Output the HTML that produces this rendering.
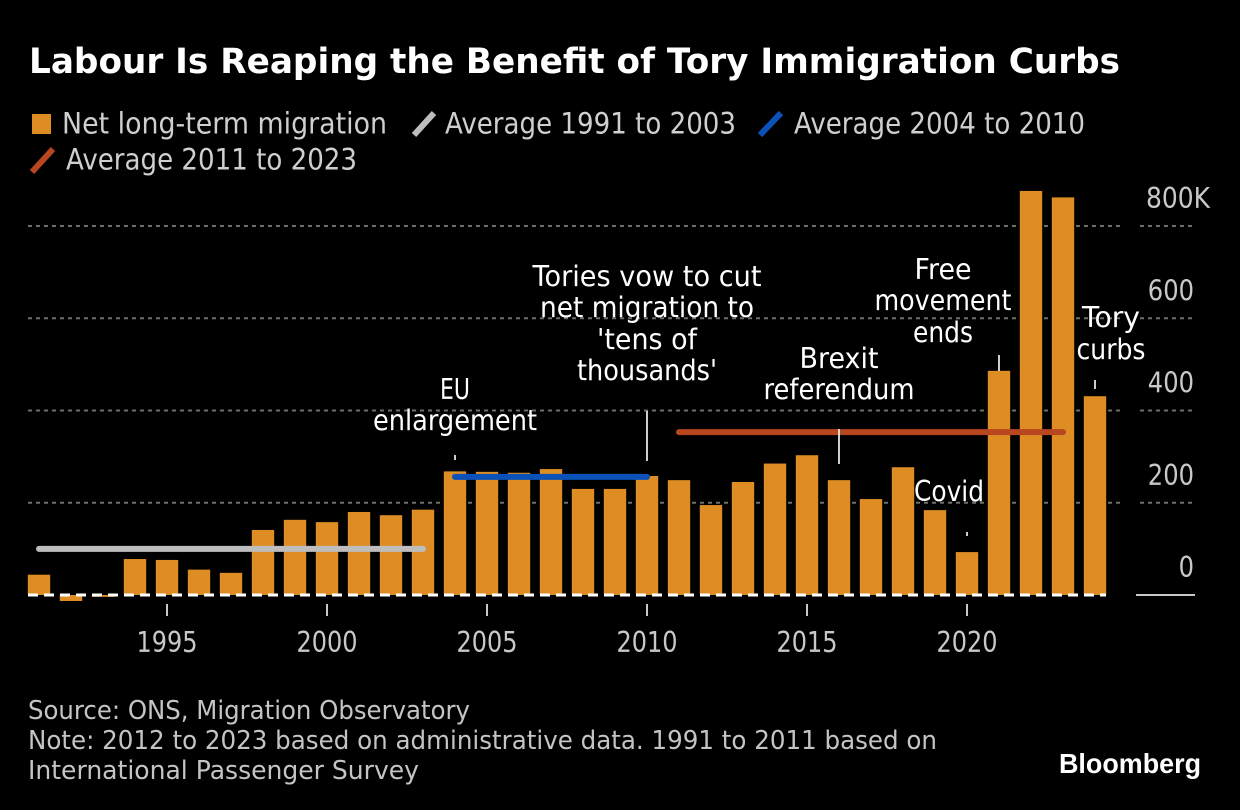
<!DOCTYPE html>
<html lang="en">
<head>
<meta charset="utf-8">
<title>Labour Is Reaping the Benefit of Tory Immigration Curbs</title>
<style>
html,body{margin:0;padding:0;background:#000;width:1240px;height:810px;overflow:hidden}
svg{display:block}
text{font-family:"DejaVu Sans",sans-serif}
.lg{font-size:29px;fill:#cfcfcf}
.ft{font-size:26px;fill:#c4c4c4}
.tk{font-size:28.5px;fill:#c8c8c8}
.an{font-size:28.5px;fill:#fff;text-anchor:middle}
</style>
</head>
<body>
<svg id="chart" width="1240" height="810" viewBox="0 0 1240 810" xmlns="http://www.w3.org/2000/svg">
  <rect width="1240" height="810" fill="#000"/>
  <text x="29" y="73" font-size="34.5" font-weight="700" fill="#fff" textLength="1091" lengthAdjust="spacingAndGlyphs">Labour Is Reaping the Benefit of Tory Immigration Curbs</text>

  <g>
    <rect x="32" y="114" width="19" height="20" fill="#dd8d24"/>
    <text class="lg" x="62" y="133.5" textLength="325" lengthAdjust="spacingAndGlyphs">Net long-term migration</text>
    <line x1="414" y1="135" x2="434" y2="113" stroke="#bdbdbd" stroke-width="6"/>
    <text class="lg" x="445" y="133.5" textLength="291" lengthAdjust="spacingAndGlyphs">Average 1991 to 2003</text>
    <line x1="760" y1="135" x2="781" y2="113" stroke="#0a52b8" stroke-width="6"/>
    <text class="lg" x="794" y="133.5" textLength="291" lengthAdjust="spacingAndGlyphs">Average 2004 to 2010</text>
    <line x1="32" y1="172" x2="53" y2="149" stroke="#b8461f" stroke-width="6"/>
    <text class="lg" x="66" y="169.5" textLength="291" lengthAdjust="spacingAndGlyphs">Average 2011 to 2023</text>
  </g>

  <g id="grid"></g>
  <g id="bars"></g>
  <g id="zero"></g>
  <g id="xaxis"></g>
  <g id="yaxis"></g>
  <g id="avgs"></g>
  <g id="leaders"></g>

  <g>
    <g>
      <text class="an" x="455" y="399" textLength="30" lengthAdjust="spacingAndGlyphs">EU</text>
      <text class="an" x="455" y="430" textLength="164" lengthAdjust="spacingAndGlyphs">enlargement</text>
    </g>
    <g>
      <text class="an" x="647" y="286" textLength="229" lengthAdjust="spacingAndGlyphs">Tories vow to cut</text>
      <text class="an" x="647" y="317" textLength="214" lengthAdjust="spacingAndGlyphs">net migration to</text>
      <text class="an" x="647" y="349" textLength="100" lengthAdjust="spacingAndGlyphs">'tens of</text>
      <text class="an" x="647" y="380" textLength="140" lengthAdjust="spacingAndGlyphs">thousands'</text>
    </g>
    <g>
      <text class="an" x="839" y="368" textLength="79" lengthAdjust="spacingAndGlyphs">Brexit</text>
      <text class="an" x="839" y="399" textLength="151" lengthAdjust="spacingAndGlyphs">referendum</text>
    </g>
    <g>
      <text class="an" x="949" y="501" textLength="70" lengthAdjust="spacingAndGlyphs">Covid</text>
    </g>
    <g>
      <text class="an" x="943" y="279" textLength="57" lengthAdjust="spacingAndGlyphs">Free</text>
      <text class="an" x="943" y="310" textLength="137" lengthAdjust="spacingAndGlyphs">movement</text>
      <text class="an" x="943" y="342" textLength="60" lengthAdjust="spacingAndGlyphs">ends</text>
    </g>
    <g>
      <text class="an" x="1111" y="327" textLength="58" lengthAdjust="spacingAndGlyphs">Tory</text>
      <text class="an" x="1111" y="359" textLength="69" lengthAdjust="spacingAndGlyphs">curbs</text>
    </g>
  </g>

  <g>
    <text class="ft" x="28" y="719" textLength="442" lengthAdjust="spacingAndGlyphs">Source: ONS, Migration Observatory</text>
    <text class="ft" x="28" y="749" textLength="909" lengthAdjust="spacingAndGlyphs">Note: 2012 to 2023 based on administrative data. 1991 to 2011 based on</text>
    <text class="ft" x="28" y="779" textLength="391" lengthAdjust="spacingAndGlyphs">International Passenger Survey</text>
  </g>
  <text x="1059" y="773" font-size="28" font-weight="700" fill="#fff" style='font-family:"Liberation Sans",sans-serif' textLength="142" lengthAdjust="spacingAndGlyphs">Bloomberg</text>
</svg>

<script>
const years = [1991,1992,1993,1994,1995,1996,1997,1998,1999,2000,2001,2002,2003,2004,2005,2006,2007,2008,2009,2010,2011,2012,2013,2014,2015,2016,2017,2018,2019,2020,2021,2022,2023,2024];
const migration = [44,-13,-4,78,76,55,48,141,163,158,180,173,185,268,267,265,273,230,230,258,249,195,245,285,303,249,208,277,184,93,486,876,862,431];
const xTickYears = [1995,2000,2005,2010,2015,2020];
const yTicks = [0,200,400,600,800];
const yTickLabels = ['0','200','400','600','800K'];
const avgStartYears = [1991,2004,2011];
const avgEndYears = [2003,2010,2023];
const avgValues = [100,256,353];
const avgNames = ['average-line-1991-2003','average-line-2004-2010','average-line-2011-2023'];
const avgColors = ['#bdbdbd','#0a52b8','#b8461f'];
const annotationYears = [2004,2010,2016,2020,2021,2024];
const annotationNames = ['leader-eu-enlargement','leader-tories-vow','leader-brexit','leader-covid','leader-free-movement','leader-tory-curbs'];
const annotationTops = [455,411,429,532,355,380];
const annotationBottoms = [460,461,464,536,371,389];

const NS = 'http://www.w3.org/2000/svg';
const x = function (year) { return 39 + (year - 1991) * 32; };
const y = function (value) { return 595 - value * 0.46125; };
const barWidth = 22.4;

function make(tag, parent, attrs, text) {
  const el = document.createElementNS(NS, tag);
  Object.keys(attrs).forEach(function (k) { el.setAttribute(k, attrs[k]); });
  if (text !== undefined) el.textContent = text;
  document.getElementById(parent).appendChild(el);
  return el;
}

yTicks.forEach(function (t, i) {
  if (t !== 0) {
    const a = make('line', 'grid', {x1: 28, x2: 1122, y1: y(t), y2: y(t), stroke: '#6e6e6e', 'stroke-width': 2, 'stroke-dasharray': '4 4'});
    
    
    const b = make('line', 'grid', {x1: 1140, x2: 1192, y1: y(t), y2: y(t), stroke: '#6e6e6e', 'stroke-width': 2, 'stroke-dasharray': '4 4'});
    
    
  }
  const label = yTickLabels[i];
  const lab = make('text', 'yaxis', {
    class: 'tk',
    x: t === 800 ? 1146 : 1194,
    y: y(t) - 18,
    'text-anchor': t === 800 ? 'start' : 'end',
    textLength: t === 800 ? 64 : label.length * 15.4,
    lengthAdjust: 'spacingAndGlyphs'
  }, label);
  
  
});

years.forEach(function (yr, i) {
  const v = migration[i];
  const top = Math.min(y(v), y(0));
  const bar = make('rect', 'bars', {x: x(yr) - barWidth / 2, y: top, width: barWidth, height: Math.abs(y(v) - y(0)), fill: '#dd8d24'});
  
  
});

const zeroDash = make('line', 'zero', {x1: 28, x2: 1106, y1: y(0), y2: y(0), stroke: '#fff', 'stroke-width': 3, 'stroke-dasharray': '10 6'});


const zeroRight = make('line', 'zero', {x1: 1136, x2: 1195, y1: y(0), y2: y(0), stroke: '#c8c8c8', 'stroke-width': 2});



xTickYears.forEach(function (yr) {
  const tick = make('line', 'xaxis', {x1: x(yr), x2: x(yr), y1: 604, y2: 616, stroke: '#c8c8c8', 'stroke-width': 2});
  
  
  const lab = make('text', 'xaxis', {class: 'tk', x: x(yr), y: 652, 'text-anchor': 'middle', textLength: 61, lengthAdjust: 'spacingAndGlyphs'}, String(yr));
  
  
});

avgValues.forEach(function (v, i) {
  const line = make('line', 'avgs', {x1: x(avgStartYears[i]), x2: x(avgEndYears[i]), y1: y(v), y2: y(v), stroke: avgColors[i], 'stroke-width': 6, 'stroke-linecap': 'round'});
  
  
});

annotationYears.forEach(function (yr, i) {
  const line = make('line', 'leaders', {x1: x(yr), x2: x(yr), y1: annotationTops[i], y2: annotationBottoms[i], stroke: '#fff', 'stroke-width': 1.6});
  
  
});
</script>
</body>
</html>
